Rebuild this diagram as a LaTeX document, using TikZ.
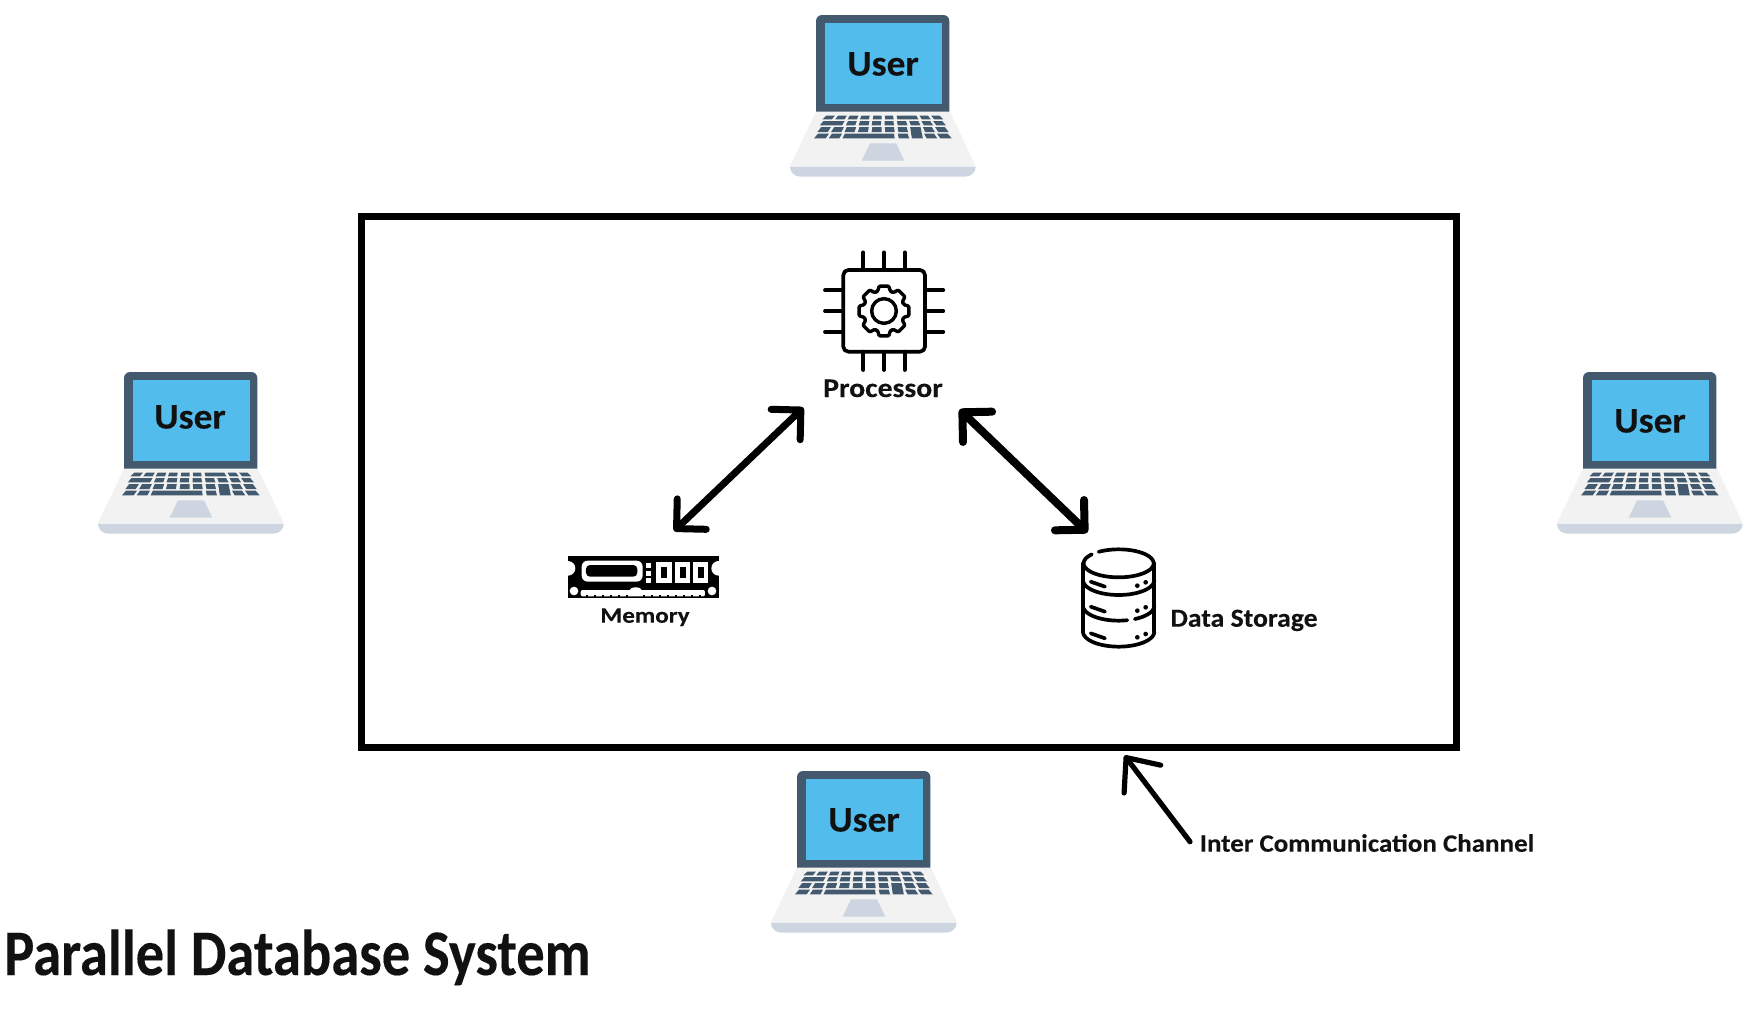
\documentclass[tikz,border=0pt]{standalone}
\usepackage{fontspec}
\setmainfont{Carlito}
\usetikzlibrary{arrows.meta}
\definecolor{ink}{HTML}{111111}
\definecolor{lapframe}{HTML}{435A6E}
\definecolor{lapblue}{HTML}{52BDEC}
\definecolor{lapbase}{HTML}{F2F2F2}
\definecolor{lapgrey}{HTML}{CDD6E0}
\newcommand{\kbkey}[4]{\fill[lapframe] ({339+(#1-339)*0.97},#3) -- ({339+(#2-339)*0.97},#3) -- ({339+(#2-339)*1.03},#4) -- ({339+(#1-339)*1.03},#4) -- cycle;}
\newcommand{\rowkeys}[3]{\foreach \ka/\kb in {#3} {\kbkey{\ka}{\kb}{#1}{#2}}}
\tikzset{
  x=1pt,y=-1pt,
  zoomcoords/.style={x=0.33333pt,y=-0.33333pt},
  lab/.style n args={2}{font=\bfseries\fontsize{#1}{#1}\selectfont\addfontfeatures{FakeStretch=#2,FakeBold=0.2},text=ink,inner sep=0pt,anchor=base},
  usertext/.style={font=\bfseries\fontsize{36}{36}\selectfont\addfontfeatures{FakeStretch=1.04,FakeBold=0.2},text=ink,inner sep=0pt,anchor=center},
  iconline/.style={line width=3.7pt,line cap=round,line join=round,draw=black},
  barbarrow/.style={line width=#1,line cap=round,{Straight Barb[length=21pt,width=42pt,line width=#1,round]}-{Straight Barb[length=21pt,width=42pt,line width=#1,round]}},
  laptop/.pic={
    \begin{scope}[zoomcoords,shift={(-339,-45)}]
      \fill[lapbase] (138,335) -- (540,335) -- (617,498) -- (60,498) -- cycle;
      \fill[lapgrey] (60,500) -- (617,500) .. controls (617,518) and (603,530) .. (585,530) -- (92,530) .. controls (74,530) and (60,518) .. (60,500) -- cycle;
      \fill[lapframe] (138,335) [rounded corners=6pt] -- (138,45) -- (538,45) [sharp corners] -- (538,335) -- cycle;
      \fill[lapblue] (164,70) rectangle (515,312);
      \fill[lapgrey] (300,430) -- (378,430) -- (403,482) -- (275,482) -- cycle;
      \rowkeys{347}{358}{163/190,200/227,236/263,272/298,309/335,345/370,381/442,452/478,488/514}
      \rowkeys{363}{376}{155/220,231/258,268/297,306/333,344/371,382/410,420/448,458/485,494/522}
      \rowkeys{381}{396}{148/178,188/218,227/256,266/295,306/335,345/373,384/412,462/490,500/530}
      \rowkeys{401}{415}{138/172,181/212,221/373,385/415,466/497,506/539}
      \kbkey{423}{455}{381}{415}
    \end{scope}
  }
}
\begin{document}
\begin{tikzpicture}
\useasboundingbox (0,0) rectangle (1763,1028);
% system box
\node[draw=black,line width=7pt,minimum width=1095pt,minimum height=531pt,inner sep=0pt,outer sep=0pt,anchor=center] (sysbox) at (909,482) {};
% laptops
\pic at (883,15) {laptop};
\pic at (191,372) {laptop};
\pic at (1650,372) {laptop};
\pic at (864,771) {laptop};
\node[usertext] (utop) at (883,64) {User};
\node[usertext] (uleft) at (190,417) {User};
\node[usertext] (uright) at (1650,421) {User};
\node[usertext] (ubottom) at (864,820) {User};
% processor
\begin{scope}[zoomcoords,shift={(2400,690)}]
  \draw[iconline,rounded corners=5pt] (130,120) rectangle (375,365);
  \foreach \p in {190,252,314} {
    \draw[iconline] (\p,67) -- (\p,120);
    \draw[iconline] (\p,365) -- (\p,420);
  }
  \foreach \p in {181,243,305} {
    \draw[iconline] (75,\p) -- (130,\p);
    \draw[iconline] (375,\p) -- (430,\p);
  }
  \begin{scope}[shift={(252,243)}]
    \draw[line width=3.4pt,line join=round,rounded corners=1pt] (-18:62)
      \foreach \a in {0,45,...,315} { -- (\a-18:62) -- (\a-11:76) -- (\a+11:76) -- (\a+18:62) } -- cycle;
    \draw[line width=3.4pt] (0,0) circle[radius=37];
  \end{scope}
\end{scope}
\node[lab={27}{1.1}] (proc) at (883,397) {Processor};
% memory
\begin{scope}[zoomcoords,shift={(1650,1590)}]
  \fill[black] (54,78) rectangle (506,203);
  \fill[white] (54,115) circle[radius=22];
  \fill[white] (506,115) circle[radius=22];
  \fill[white] (72,183) circle[radius=13];
  \fill[white] (486,183) circle[radius=13];
  \fill[white,rounded corners=2pt] (92,199) -- (92,180) -- (465,180) -- (465,199) -- cycle;
  \fill[white] (257,180) ellipse[x radius=18,y radius=8];
  \foreach \d in {112,136,160,184,208,232,283,307,331,355,379,403,427,451} {
    \fill[black] (\d-3,194) rectangle (\d+3,200);
  }
  \fill[white,rounded corners=6pt] (95,92) rectangle (278,155);
  \fill[black,rounded corners=4pt] (108,105) rectangle (262,140);
  \foreach \q in {100,122,145} {
    \fill[white] (288,\q) rectangle (304,\q+15);
  }
  \foreach \u/\v in {318/365,375/420,430/475} {
    \fill[white] (\u,97) rectangle (\v,160);
    \fill[black] (\u+15,112) rectangle (\v-13,145);
  }
\end{scope}
\node[lab={22}{1.14}] (mem) at (645,622.7) {Memory};
% data storage
\begin{scope}[zoomcoords,shift={(3180,1590)}]
  \draw[iconline] plot[domain=140:485,samples=70] ({176+105*cos(\x)},{100-42*sin(\x)});
  \draw[iconline] (70,100) -- (70,305);
  \draw[iconline] (283,100) -- (283,305);
  \draw[iconline] plot[domain=180:360,samples=40] ({176+107*cos(\x)},{150-45*sin(\x)});
  \draw[iconline] plot[domain=180:284,samples=30] ({176+107*cos(\x)},{227-45*sin(\x)});
  \draw[iconline] plot[domain=297:360,samples=20] ({176+107*cos(\x)},{227-45*sin(\x)});
  \draw[iconline] plot[domain=180:360,samples=40] ({176+107*cos(\x)},{305-45*sin(\x)});
  \foreach \t in {0,75,155} {
    \draw[iconline] (92,155+\t) -- (135,170+\t);
    \fill[black] (232,167+\t) circle[radius=7];
    \fill[black] (257,157+\t) circle[radius=7];
  }
\end{scope}
\node[lab={26}{1.065}] (store) at (1244,626.7) {Data Storage};
% arrows
\coordinate (mema) at (674,531);
\coordinate (proca) at (803.4,407.6);
\coordinate (procb) at (959.5,409.5);
\coordinate (storeb) at (1087.5,532.5);
\draw[barbarrow=7pt] (mema) -- (proca);
\draw[barbarrow=8pt] (procb) -- (storeb);
\coordinate (chanlab) at (1190,841.7);
\coordinate (chanbox) at (1124.5,755.5);
\draw[line width=5.2pt,line cap=round,-{Straight Barb[length=27pt,width=46pt,line width=5.2pt,round]}] (chanlab) -- (chanbox);
\node[lab={25}{1.08}] (chan) at (1367,851.7) {Inter Communication Channel};
\node[lab={65}{0.87},anchor=base west] (title) at (4,975) {Parallel Database System};
\end{tikzpicture}
\end{document}
